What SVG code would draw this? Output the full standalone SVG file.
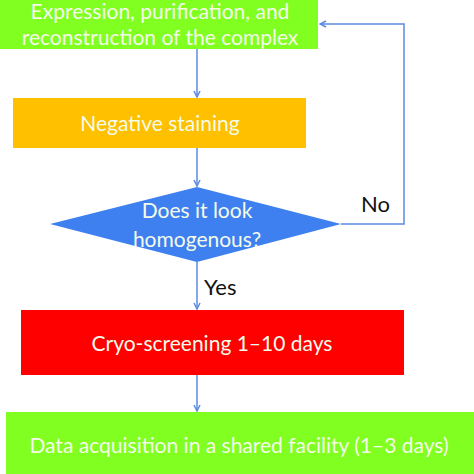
<svg xmlns="http://www.w3.org/2000/svg" width="474" height="474" viewBox="0 0 474 474">
<defs>
<marker id="ah" viewBox="0 0 10 10" refX="9" refY="5" markerWidth="5" markerHeight="5" orient="auto"><path d="M1,1 L9,5 L1,9" fill="none" stroke="#5B8BE0" stroke-width="2"/></marker>
<style>
.t{font-family:Lato,"Open Sans","Liberation Sans",sans-serif;font-size:21px;fill:#f4fbe8;text-anchor:middle}
.k{font-family:Lato,"Open Sans","Liberation Sans",sans-serif;font-size:22px;fill:#111;text-anchor:start}
.c{fill:none;stroke:#5B8BE0;stroke-width:1.5;marker-end:url(#ah)}
</style>
</defs>
<rect width="474" height="474" fill="#fff"/>
<g id="n1"><rect x="0" y="0" width="318" height="49" fill="#80FF20"/>
<text class="t" x="160" y="19">Expression, purification, and</text>
<text class="t" x="160" y="45">reconstruction of the complex</text></g>
<g id="n2"><rect x="13" y="98" width="293" height="50" fill="#FFC000"/>
<text class="t" x="160" y="131">Negative staining</text></g>
<g id="n3"><polygon points="197,187 341,224 197,262 50,224" fill="#3F80F0"/>
<text class="t" x="197" y="218">Does it look</text>
<text class="t" x="197" y="247">homogenous?</text></g>
<g id="n4"><rect x="21" y="310" width="383" height="65" fill="#FF0000"/>
<text class="t" x="212" y="351">Cryo-screening 1–10 days</text></g>
<g id="n5"><rect x="6" y="412" width="468" height="62" fill="#80FF20"/>
<text class="t" x="239" y="453">Data acquisition in a shared facility (1–3 days)</text></g>
<g id="connectors">
<path class="c" d="M197,49 V97"/>
<path class="c" d="M197,148 V186"/>
<path class="c" d="M197,262 V309"/>
<path class="c" d="M197,375 V411"/>
<path class="c" d="M341,224 H404 V24 H320"/>
<text class="k" x="361" y="212">No</text>
<text class="k" x="204" y="295">Yes</text>
</g>
</svg>
